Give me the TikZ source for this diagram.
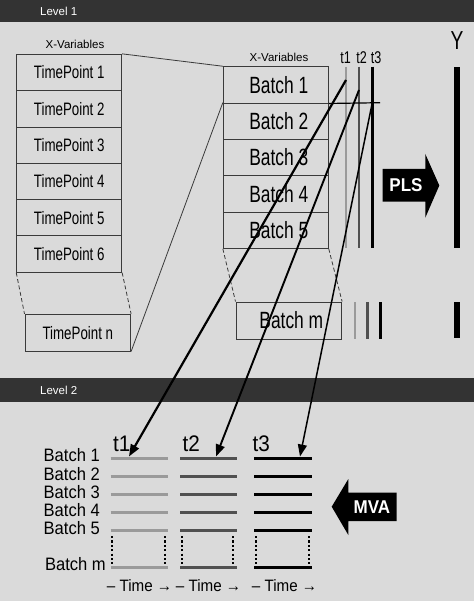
\documentclass[tikz,border=0pt]{standalone}
\usepackage{fontspec}
\setmainfont{Liberation Sans}
\newfontfamily\narA[FakeStretch=0.74]{Liberation Sans}
\newfontfamily\narB[FakeStretch=0.92]{Liberation Sans}
\usetikzlibrary{arrows.meta}
\definecolor{bgc}{HTML}{DADADA}
\definecolor{barc}{HTML}{333333}
\definecolor{edgec}{HTML}{3A3A3A}
\definecolor{tonec}{HTML}{9A9A9A}
\definecolor{ttwoc}{HTML}{505050}
\definecolor{tthreec}{HTML}{000000}
\tikzset{
  tpbox/.style={draw=edgec, line width=0.9pt, fill=bgc, inner sep=0pt,
    minimum width=105pt, minimum height=36.33pt,
    font=\narA\fontsize{18}{20}\selectfont},
  batchbox/.style={draw=edgec, line width=0.9pt, fill=bgc, inner sep=0pt,
    minimum width=105pt, minimum height=36.33pt,
    font=\narA\fontsize{23.5}{26}\selectfont},
  xvar/.style={inner sep=0pt, anchor=base, font=\fontsize{11.5}{13}\selectfont},
  toplab/.style={inner sep=0pt, anchor=base, font=\narA\fontsize{17}{19}\selectfont},
  botlab/.style={inner sep=0pt, anchor=base west, font=\narB\fontsize{22.5}{24}\selectfont},
  rowlab/.style={inner sep=0pt, anchor=base east, font=\narB\fontsize{18}{19}\selectfont},
  timelab/.style={inner sep=0pt, anchor=base west, font=\narB\fontsize{16.5}{18}\selectfont},
  levlab/.style={inner sep=0pt, anchor=west, text=white, font=\fontsize{11.5}{13}\selectfont},
  biglab/.style={inner sep=0pt, text=white, font=\narB\bfseries\fontsize{18.5}{20}\selectfont},
  dashlink/.style={draw=edgec, line width=0.8pt, dash pattern=on 4pt off 2.5pt},
  thinlink/.style={draw=edgec, line width=0.8pt},
  bigarrow/.style={draw=black, -{Triangle[length=12pt,width=9pt]}},
  dotv/.style={draw=black, line width=2.2pt, dash pattern=on 2.2pt off 2.2pt},
}
\begin{document}
\begin{tikzpicture}[x=1pt,y=-1pt]
\useasboundingbox (0,0) rectangle (474,601);
\fill[bgc] (0,0) rectangle (474,601);
\fill[barc] (0,0) rectangle (474,22);
\fill[barc] (0,378) rectangle (474,402);
\node[levlab] (lv1) at (40,11) {Level 1};
\node[levlab] (lv2) at (40,390) {Level 2};

% left column
\node[xvar] (xv1) at (75,49) {X-Variables};
\foreach \i in {1,...,6}
  \node[tpbox] (tp\i) at (69.2,{54.3+36.33*(\i-0.5)}) {TimePoint \i};
\node[tpbox, minimum width=105.7pt, minimum height=36.7pt] (tpn) at (77.8,332.7) {TimePoint n};
\draw[dashlink] (tp6.south west) -- (tpn.north west);
\draw[dashlink] (tp6.south east) -- (tpn.north east);

% middle column
\node[xvar] (xv2) at (279,61.7) {X-Variables};
\foreach \i in {1,...,5}
  \node[batchbox] (b\i) at (275.8,{66.7+36.33*(\i-0.5)}) {\hspace{6pt}Batch \i};
\node[batchbox, minimum width=105.7pt, minimum height=37pt] (bm) at (288.8,320.5) {\hspace{5pt}Batch m};
\draw[dashlink] (b5.south west) -- (bm.north west);
\draw[dashlink] (b5.south east) -- (bm.north east);

% links left to middle
\draw[thinlink] (tp1.north east) -- (b1.north west);
\draw[thinlink] (b2.north west) -- (tpn.south east);

% t lines
\node[toplab] (lt1) at (345.5,63.3) {t1};
\node[toplab] (lt2) at (361.5,63.3) {t2};
\node[toplab] (lt3) at (376,63.3) {t3};
\draw[tonec, line width=2.8pt] (346,66.7) -- (346,248);
\draw[ttwoc, line width=2.8pt] (359,66.7) -- (359,248);
\draw[tthreec, line width=2.8pt] (372.3,66.7) -- (372.3,248);
\draw[black, line width=1.2pt] (b1.south east) -- (380,102.7);
\draw[tonec, line width=2.8pt] (355,302) -- (355,339);
\draw[ttwoc, line width=2.8pt] (367.7,302) -- (367.7,339);
\draw[tthreec, line width=2.8pt] (380.7,302) -- (380.7,339);

% Y
\node[inner sep=0pt, anchor=base, font=\narA\fontsize{26}{28}\selectfont] (ylab) at (457,50) {Y};
\fill[black] (454.3,66.7) rectangle (460.3,247.7);
\fill[black] (454.3,302.3) rectangle (460.3,338.3);

% PLS arrow
\fill[black] (382.7,169) -- (425.3,169) -- (425.3,154) -- (439.3,185.5)
  -- (425.3,217.7) -- (425.3,201.7) -- (382.7,201.7) -- cycle;
\node[biglab] (pls) at (406,185.5) {PLS};

% Level 2 lines
\foreach \y in {458,476.7,494.7,512.7,530.7,567.3}{
  \draw[tonec, line width=3pt] (110.7,\y) -- (167.7,\y);
  \draw[ttwoc, line width=3pt] (180,\y) -- (237,\y);
  \draw[tthreec, line width=3pt] (254,\y) -- (312,\y);
}
\foreach \x in {111.7,164.7,181.7,233.3,256,309.3}
  \draw[dotv] (\x,536) -- (\x,564);

\node[botlab] (bt1) at (113,451.5) {t1};
\node[botlab] (bt2) at (182.5,451.5) {t2};
\node[botlab] (bt3) at (252.3,451.5) {t3};

\node[rowlab] (r1) at (100,461.7) {Batch 1};
\node[rowlab] (r2) at (100,480.2) {Batch 2};
\node[rowlab] (r3) at (100,498.2) {Batch 3};
\node[rowlab] (r4) at (100,516.2) {Batch 4};
\node[rowlab] (r5) at (100,534.2) {Batch 5};
\node[rowlab] (rm) at (106,570) {Batch m};

\node[timelab] (tm1) at (106.7,591) {– Time →};
\node[timelab] (tm2) at (175.7,591) {– Time →};
\node[timelab] (tm3) at (251.7,591) {– Time →};

% MVA arrow
\fill[black] (331.7,506.7) -- (348.3,479) -- (348.3,492.7) -- (396.7,492.7)
  -- (396.7,521) -- (348.3,521) -- (348.3,535) -- cycle;
\node[biglab] (mva) at (372,507) {MVA};

% big arrows from level 1 to level 2
\coordinate (s1) at (346,80);
\coordinate (s2) at (359,90);
\coordinate (s3) at (372.3,102.7);
\coordinate (e1) at (129,456.5);
\coordinate (e2) at (216,456.5);
\coordinate (e3) at (300,456.5);
\draw[bigarrow, line width=2.2pt] (s1) -- (e1);
\draw[bigarrow, line width=1.9pt] (s2) -- (e2);
\draw[bigarrow, line width=1.5pt] (s3) -- (e3);
\end{tikzpicture}
\end{document}
